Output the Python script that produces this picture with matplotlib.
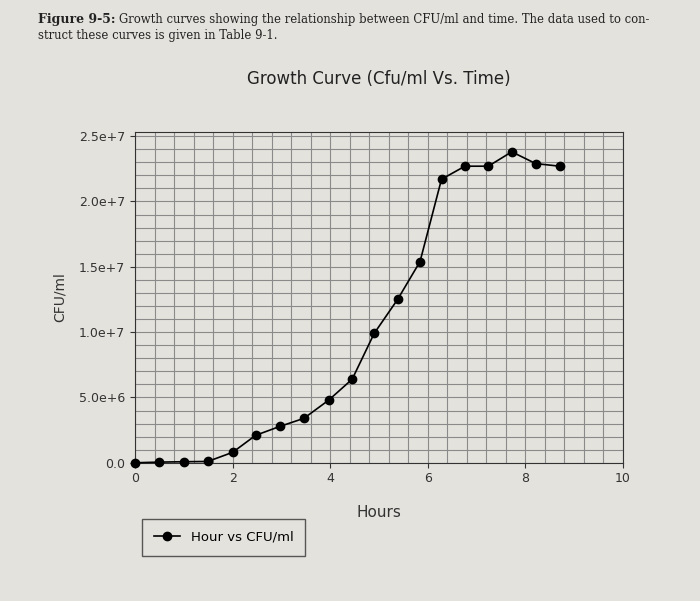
import numpy as np
import matplotlib.pyplot as plt

hours = [0, 0.49, 1.0, 1.49, 2.0, 2.47, 2.98, 3.46, 3.97, 4.45, 4.9, 5.38,
         5.84, 6.28, 6.76, 7.24, 7.72, 8.21, 8.7]
cfu = [0, 0.05e6, 0.08e6, 0.1e6, 0.8e6, 2.1e6, 2.8e6, 3.4e6, 4.8e6, 6.4e6,
       9.9e6, 12.5e6, 15.4e6, 21.7e6, 22.7e6, 22.7e6, 23.8e6, 22.9e6, 22.7e6]
yticks = [0, 5e6, 10e6, 15e6, 20e6, 25e6]
ylabels = ["0.0", "5.0e+6", "1.0e+7", "1.5e+7", "2.0e+7", "2.5e+7"]

paper = "#e4e2dd"
fig = plt.figure(figsize=(7, 6.01), dpi=100, facecolor=paper)

fig.text(0.055, 0.962, "Figure 9-5:", fontsize=9, fontweight="bold",
         family="DejaVu Serif", color="#222222")
fig.text(0.17, 0.962, "Growth curves showing the relationship between CFU/ml and time. The data used to con-",
         fontsize=8.4, family="DejaVu Serif", color="#222222")
fig.text(0.055, 0.935, "struct these curves is given in Table 9-1.",
         fontsize=8.4, family="DejaVu Serif", color="#222222")

ax = fig.add_axes([0.193, 0.23, 0.697, 0.55])
ax.set_facecolor(paper)
ax.plot(hours, cfu, color="black", marker="o", markersize=6, lw=1.2,
        label="Hour vs CFU/ml", clip_on=False, zorder=3)
ax.set_xlim(0, 10)
ax.set_ylim(0, 2.53e7)
ax.set_xticks([0, 2, 4, 6, 8, 10])
ax.set_yticks(yticks)
ax.set_yticklabels(ylabels)
ax.set_xticks(np.arange(0, 10.01, 0.4), minor=True)
ax.set_yticks(np.arange(0, 2.53e7, 1e6), minor=True)
ax.tick_params(which="minor", length=0)
ax.grid(which="both", color="#8a8a8a", lw=0.8)
ax.tick_params(labelsize=9, colors="#333333")
for s in ax.spines.values():
    s.set_color("#333333")
ax.set_xlabel("Hours", fontsize=11, color="#333333", labelpad=14)
ax.set_ylabel("CFU/ml", fontsize=10, color="#333333", labelpad=4)
ax.yaxis.set_label_coords(-0.14, 0.5)
ax.set_title("Growth Curve (Cfu/ml Vs. Time)", fontsize=12, color="#222222", pad=35)

leg = ax.legend(loc="upper left", bbox_to_anchor=(0.0, -0.15), fancybox=False,
                edgecolor="#333333", facecolor=paper, fontsize=9.5, borderpad=0.9)

fig.savefig("out.png", facecolor=paper)
